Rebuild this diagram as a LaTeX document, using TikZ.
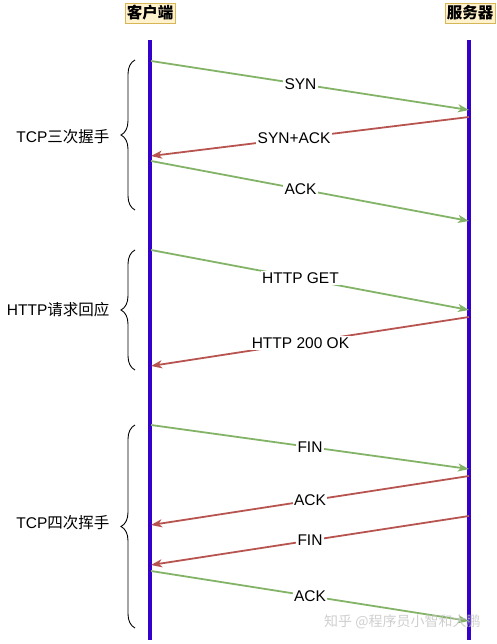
\documentclass[tikz,border=0pt]{standalone}
\usepackage{fontspec}
\setmainfont{Liberation Sans}
\newfontfamily\cjk{Noto Sans CJK SC}
\usetikzlibrary{positioning, arrows.meta, decorations.pathreplacing}
\definecolor{lifeblue}{HTML}{3300CC}
\definecolor{reqgreen}{HTML}{82B366}
\definecolor{resred}{HTML}{B85450}
\definecolor{headfill}{HTML}{FFF2CC}
\definecolor{headline}{HTML}{D6B656}

\begin{document}
\begin{tikzpicture}[x=1pt, y=-1pt,
  every node/.style={font=\fontsize{15.5}{18}\selectfont},
  header/.style={draw=headline, fill=headfill, inner sep=1pt,
    minimum width=50pt, minimum height=20pt,
    font=\fontsize{15.5}{18}\selectfont\cjk\bfseries},
  lifeline/.style={line width=4pt, draw=lifeblue},
  msg/.style={line width=1.8pt, -{Stealth[length=11pt, width=8pt, inset=3pt]}},
  req/.style={msg, draw=reqgreen},
  res/.style={msg, draw=resred},
  tag/.style={fill=white, inner sep=1.5pt},
  phase/.style={decorate, decoration={brace, amplitude=14pt}, line width=0.9pt}
]
\useasboundingbox (0,0) rectangle (496,644);

% headers and lifelines
\node[header] (cli) at (150,13) {客户端};
\node[header] (srv) at (470,13) {服务器};
\coordinate (cli-top) at (150,40);
\coordinate (cli-bot) at (150,640);
\coordinate (srv-top) at (469,40);
\coordinate (srv-bot) at (469,640);
\draw[lifeline] (cli-top) -- (cli-bot);
\draw[lifeline] (srv-top) -- (srv-bot);

% message ends on both lifelines
\foreach \n/\y in {a/61, b/156, c/161, d/250, e/366, f/425, g/525, h/565, i/571}
  \coordinate (cli-\n) at (151,\y);
\foreach \n/\y in {a/110, b/117, c/221, d/310, e/317, f/469, g/476, h/516, i/621}
  \coordinate (srv-\n) at (469,\y);

% handshake
\draw[req] (cli-a) -- node[tag, pos=0.47] (syn) {SYN} (srv-a);
\draw[res] (srv-b) -- node[tag, pos=0.55] (synack) {SYN+ACK} (cli-b);
\draw[req] (cli-c) -- node[tag, pos=0.47] (ack1) {ACK} (srv-c);

% request / response
\draw[req] (cli-d) -- node[tag, pos=0.47] (get) {HTTP GET} (srv-d);
\draw[res] (srv-e) -- node[tag, pos=0.53] (ok) {HTTP 200 OK} (cli-e);

% teardown
\draw[req] (cli-f) -- node[tag] (fin1) {FIN} (srv-f);
\draw[res] (srv-g) -- node[tag] (ack2) {ACK} (cli-g);
\draw[res] (srv-h) -- node[tag] (fin2) {FIN} (cli-h);
\draw[req] (cli-i) -- node[tag] (ack3) {ACK} (srv-i);

% phases
\draw[phase] (135,210) -- (135,60);
\node[anchor=east] (tcp3) at (113,137) {TCP{\cjk 三次握手}};
\draw[phase] (135,370) -- (135,250);
\node[anchor=east] (http) at (113,310) {HTTP{\cjk 请求回应}};
\draw[phase] (135,628) -- (135,425);
\node[anchor=east] (tcp4) at (113,523) {TCP{\cjk 四次挥手}};

\node[anchor=west, inner sep=0pt, text=gray!45, opacity=0.85,
  font=\fontsize{14}{16}\selectfont\cjk] (mark) at (324,622) {知乎 @程序员小智和大鹏};
\end{tikzpicture}
\end{document}
